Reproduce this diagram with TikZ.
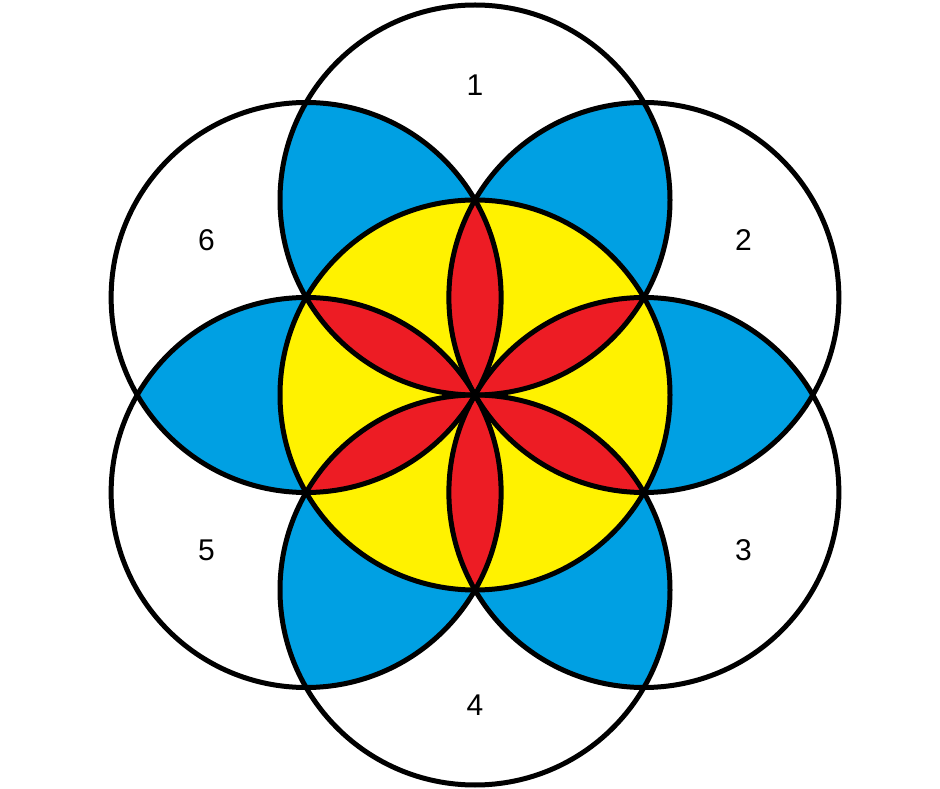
\documentclass[tikz,border=0pt]{standalone}
\usepackage{fontspec}
\setmainfont{Liberation Sans}
\definecolor{petalblue}{HTML}{00A0E3}
\definecolor{seedyellow}{HTML}{FFF200}
\definecolor{petalred}{HTML}{ED1C24}
\begin{document}
\begin{tikzpicture}[x=1pt, y=1pt, ring/.style={draw=black, line width=5pt}, num/.style={font=\fontsize{30}{30}\selectfont}]
        \useasboundingbox (0,0) rectangle (940,788);
        \coordinate (O) at (475,393);
        \foreach \i in {0,...,5} {
            \path (O) ++(90-60*\i:195) coordinate (c\i);
        }
        % blue lenses of neighbouring circles
        \foreach \i in {0,...,5} {
            \pgfmathtruncatemacro{\j}{mod(\i+1,6)}
            \begin{scope}
                \clip (c\i) circle (195);
                \fill[petalblue] (c\j) circle (195);
            \end{scope}
        }
        \fill[seedyellow] (O) circle (195);
        % red petals
        \foreach \i in {0,...,5} {
            \pgfmathtruncatemacro{\j}{mod(\i+2,6)}
            \begin{scope}
                \clip (c\i) circle (195);
                \fill[petalred] (c\j) circle (195);
            \end{scope}
        }
        \draw[ring] (O) circle (195);
        \foreach \i in {0,...,5} {
            \draw[ring] (c\i) circle (195);
        }
        \foreach \i in {0,...,5} {
            \pgfmathtruncatemacro{\n}{\i+1}
            \path (O) ++(90-60*\i:310) node[num] (lab\n) {\n};
        }
    \end{tikzpicture}
\end{document}
